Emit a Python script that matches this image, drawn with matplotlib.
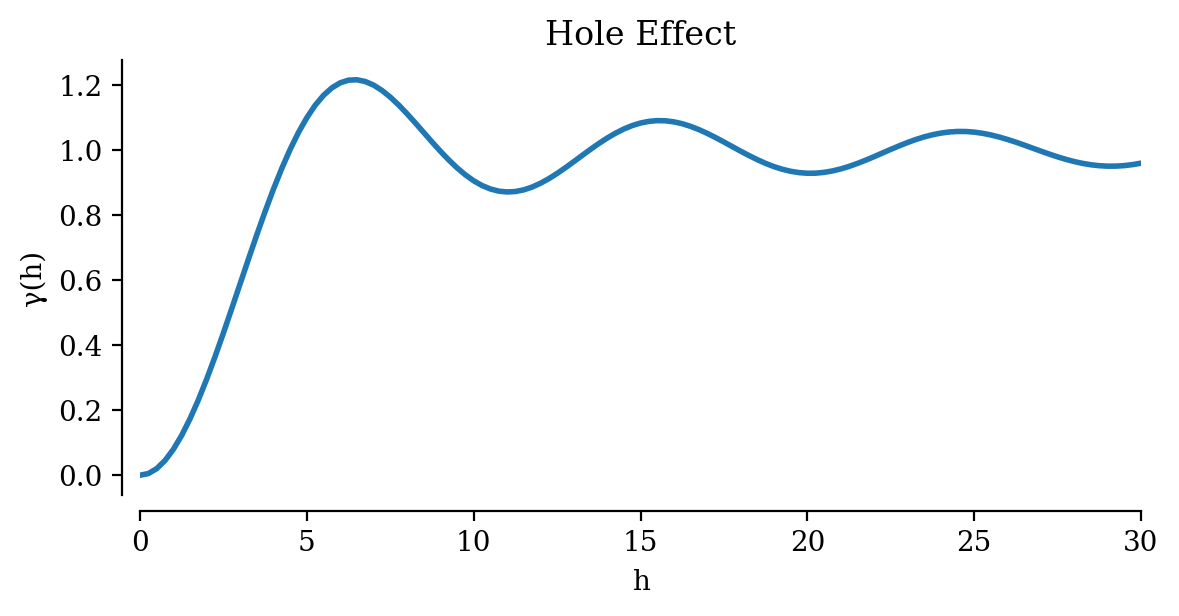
import numpy as np
import matplotlib
matplotlib.use("Agg")
import matplotlib.pyplot as plt

# semivariogram values, every 0.25 lag units
h = np.arange(0, 30.001, 0.25)
gamma = [
    0.0000, 0.0051, 0.0203, 0.0453,
    0.0797, 0.1228, 0.1739, 0.2320,
    0.2961, 0.3651, 0.4377, 0.5128,
    0.5889, 0.6650, 0.7397, 0.8118,
    0.8804, 0.9443, 1.0027, 1.0549,
    1.1002, 1.1384, 1.1690, 1.1920,
    1.2075, 1.2157, 1.2169, 1.2116,
    1.2005, 1.1842, 1.1636, 1.1395,
    1.1127, 1.0843, 1.0550, 1.0257,
    0.9973, 0.9706, 0.9461, 0.9244,
    0.9061, 0.8915, 0.8809, 0.8742,
    0.8717, 0.8730, 0.8781, 0.8867,
    0.8983, 0.9124, 0.9286, 0.9463,
    0.9649, 0.9839, 1.0027, 1.0207,
    1.0374, 1.0524, 1.0654, 1.0759,
    1.0838, 1.0889, 1.0912, 1.0907,
    1.0874, 1.0817, 1.0736, 1.0636,
    1.0519, 1.0391, 1.0254, 1.0113,
    0.9973, 0.9838, 0.9711, 0.9596,
    0.9496, 0.9415, 0.9353, 0.9312,
    0.9292, 0.9295, 0.9319, 0.9363,
    0.9425, 0.9503, 0.9594, 0.9695,
    0.9803, 0.9915, 1.0027, 1.0135,
    1.0237, 1.0330, 1.0411, 1.0477,
    1.0528, 1.0562, 1.0578, 1.0577,
    1.0558, 1.0522, 1.0471, 1.0407,
    1.0332, 1.0249, 1.0159, 1.0066,
    0.9973, 0.9883, 0.9797, 0.9720,
    0.9652, 0.9596, 0.9553, 0.9525,
    0.9511, 0.9512, 0.9528, 0.9559,
    0.9602,
]
title = "Hole Effect"
xlabel = "h"
ylabel = "γ(h)"

plt.rcParams["font.family"] = "DejaVu Serif"
plt.rcParams["font.size"] = 10

W, H = 1179, 616
fig = plt.figure(figsize=(W / 200, H / 200), dpi=200)
ax = fig.add_axes([140 / W, (H - 495) / H, (1141 - 140) / W, (495 - 60) / H])

ax.plot(h, gamma, color="#1f77b4", lw=2, solid_joinstyle="round")
ax.set_xlim(0, 30)
ax.set_title(title, fontsize=12, pad=5.5)
ax.set_xlabel(xlabel)
ax.set_ylabel(ylabel)

ax.spines["top"].set_visible(False)
ax.spines["right"].set_visible(False)
ax.spines["left"].set_position(("outward", 18 * 72 / 200))
ax.spines["bottom"].set_position(("outward", 16 * 72 / 200))

fig.savefig("out.png", dpi=200)
